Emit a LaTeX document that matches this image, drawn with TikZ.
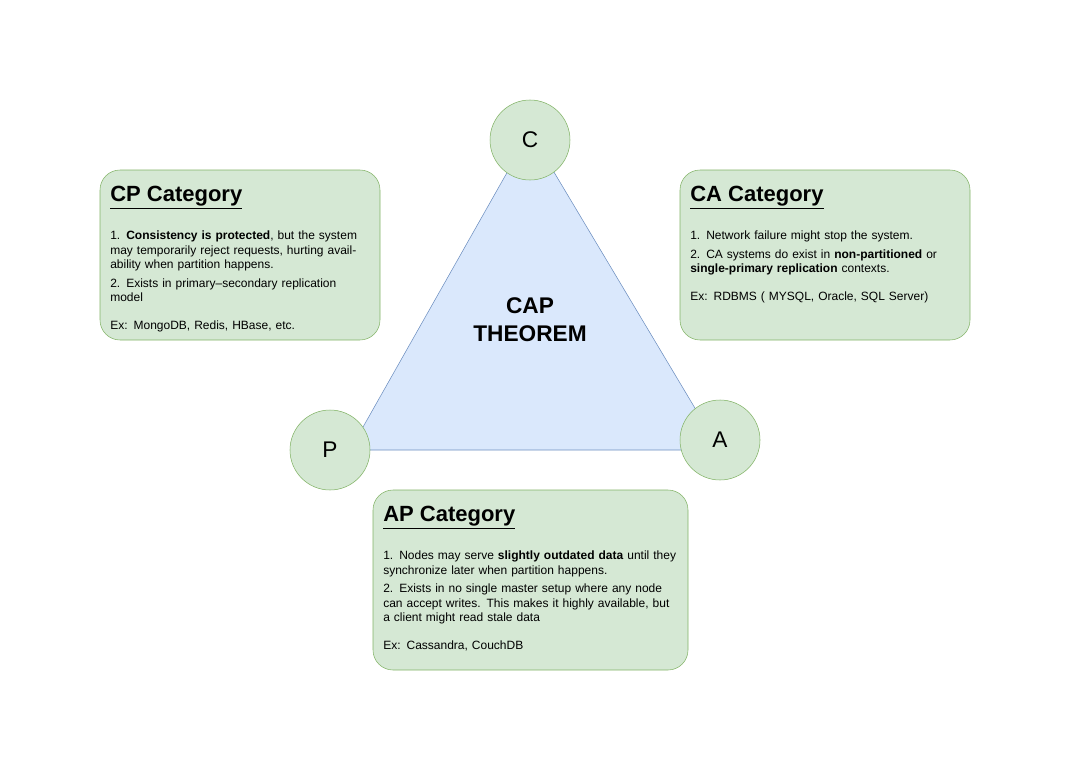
\documentclass[tikz,border=0pt]{standalone}
\usepackage{fontspec}
\setmainfont{Liberation Sans}
\begin{document}
\begin{tikzpicture}[x=0.75pt,y=-0.75pt,
  vert/.style={circle,draw=green!50!black!60!white,draw=vgreen,fill=lgreen,minimum size=60pt,inner sep=0pt,font=\fontsize{17}{20}\selectfont},
  box/.style={draw=vgreen,fill=lgreen,rounded corners=15pt},
  head/.style={anchor=north west,inner sep=0pt,font=\fontsize{16.5}{19}\selectfont\bfseries},
  body/.style={anchor=north west,inner sep=0pt,align=left,font=\fontsize{9}{10.8}\selectfont}]
\definecolor{lgreen}{HTML}{D5E8D4}
\definecolor{vgreen}{HTML}{82B366}
\definecolor{lblue}{HTML}{DAE8FC}
\definecolor{dblue}{HTML}{6C8EBF}
\useasboundingbox (0,0) rectangle (1071,771);
\coordinate (t1) at (530,132);
\coordinate (t2) at (350,450);
\coordinate (t3) at (720,450);
\filldraw[fill=lblue,draw=dblue] (t1) -- (t2) -- (t3) -- cycle;
\node[font=\fontsize{17}{21}\selectfont\bfseries,align=center] (cap) at (530,320) {CAP\\THEOREM};
\node[vert] (C) at (530,140) {C};
\node[vert] (P) at (330,450) {P};
\node[vert] (A) at (720,440) {A};
% CP
\draw[box] (100,170) rectangle (380,340);
\node[head] (cph) at (110,186) {\underline{CP Category}};
\node[body,text width=195pt] (cpb) at (110,231) {1. \textbf{Consistency is protected}, but the system may temporarily reject requests, hurting availability when partition happens.\\[3pt]
2. Exists in primary--secondary replication model\\[10pt]
Ex: MongoDB, Redis, HBase, etc.};
% CA
\draw[box] (680,170) rectangle (970,340);
\node[head] (cah) at (690,186) {\underline{CA Category}};
\node[body,text width=205pt] (cab) at (690,231) {1. Network failure might stop the system.\\[3pt]
2. CA systems do exist in \textbf{non-partitioned} or \textbf{single-primary replication} contexts.\\[10pt]
Ex: RDBMS ( MYSQL, Oracle, SQL Server)};
% AP
\draw[box] (373,490) rectangle (688,670);
\node[head] (aph) at (383,506) {\underline{AP Category}};
\node[body,text width=222pt] (apb) at (383,551) {1. Nodes may serve \textbf{slightly outdated data} until they synchronize later when partition happens.\\[3pt]
2. Exists in no single master setup where any node can accept writes. This makes it highly available, but a client might read stale data\\[10pt]
Ex: Cassandra, CouchDB};
\end{tikzpicture}
\end{document}
